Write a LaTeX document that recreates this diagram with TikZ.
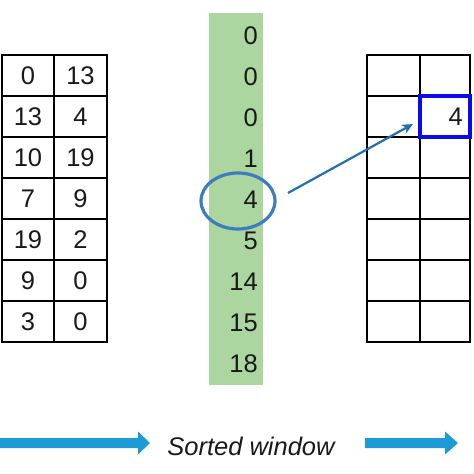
\documentclass[tikz,border=0pt]{standalone}
\usepackage{fontspec}
\setmainfont{Liberation Sans}
\usetikzlibrary{arrows.meta}
\definecolor{wingreen}{RGB}{171,214,160}
\definecolor{ringblue}{RGB}{61,125,190}
\definecolor{ptrblue}{RGB}{31,112,178}
\definecolor{barblue}{RGB}{29,155,215}
\definecolor{hiblue}{RGB}{10,10,240}
\tikzset{
  gridline/.style={draw=black,line width=2.8pt},
  digit/.style={font=\fontsize{25.5}{30}\selectfont,inner sep=0pt,text=black!90},
  blockarrow/.style={fill=barblue,draw=none},
}
\begin{document}
\begin{tikzpicture}[x=1pt,y=-1pt]
\useasboundingbox (0,0) rectangle (474,474);
% sorted window column
\fill[wingreen] (209,13) rectangle (263,385);
\foreach \v [count=\i from 0] in {0,0,0,1,4,5,14,15,18}{
  \node[digit,anchor=east] (w\i) at (258,{36+41*\i}) {\v};
}
% left grid
\foreach \a/\b [count=\i from 0] in {0/13,13/4,10/19,7/9,19/2,9/0,3/0}{
  \draw[gridline] (2,{55+41*\i}) rectangle (54,{96+41*\i});
  \draw[gridline] (54,{55+41*\i}) rectangle (107,{96+41*\i});
  \node[digit] (l\i a) at (28,{75.5+41*\i}) {\a};
  \node[digit] (l\i b) at (80.5,{75.5+41*\i}) {\b};
}
% right grid
\foreach \i in {0,...,6}{
  \draw[gridline] (367,{55+41*\i}) rectangle (420,{96+41*\i});
  \draw[gridline] (420,{55+41*\i}) rectangle (470,{96+41*\i});
}
\draw[draw=hiblue,line width=4.2pt] (420,96) rectangle (470,137);
\node[digit,anchor=east] (r1) at (463,116.5) {4};
% ring around 4
\draw[ringblue,line width=3.2pt] (238,201) ellipse [x radius=37, y radius=28];
% pointer
\coordinate (ps) at (288,193);
\coordinate (pe) at (413,124);
\draw[ptrblue,line width=2.2pt,-{Stealth[length=11pt,width=10pt]}] (ps) -- (pe);
% bottom arrows
\fill[blockarrow] (0,438) -- (138,438) -- (138,431.5) -- (150,443) -- (138,454.5) -- (138,448) -- (0,448) -- cycle;
\fill[blockarrow] (365,438) -- (445,438) -- (445,431.5) -- (458,443) -- (445,454.5) -- (445,448) -- (365,448) -- cycle;
\node[font=\fontsize{25.5}{30}\selectfont\itshape,text=black!90,inner sep=0pt] (lbl) at (251,446) {Sorted window};
\end{tikzpicture}
\end{document}
